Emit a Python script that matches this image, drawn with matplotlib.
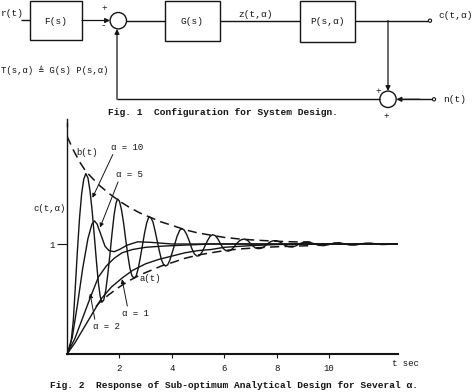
import numpy as np
import matplotlib
matplotlib.use("Agg")
import matplotlib.pyplot as plt
from matplotlib.patches import Circle, Rectangle

MONO = ['Liberation Mono', 'DejaVu Sans Mono', 'DejaVu Sans']
plt.rcParams['font.family'] = MONO
INK = '#141414'

# ---- data (t in sec, c(t, alpha)) ----
t_a10 = [0, 0.08, 0.16, 0.24, 0.32, 0.40, 0.48, 0.56, 0.64, 0.72, 0.80, 0.88, 0.96,
         1.04, 1.12, 1.20, 1.27, 1.33, 1.40, 1.48, 1.56, 1.64, 1.72, 1.80, 1.87, 1.93,
         2.00, 2.08, 2.16, 2.24, 2.32, 2.40, 2.48, 2.56, 2.64, 2.72, 2.80, 2.88, 2.96,
         3.04, 3.12, 3.20, 3.28, 3.36, 3.44, 3.52, 3.60, 3.68, 3.76, 3.84, 3.92, 4.00,
         4.10, 4.20, 4.30, 4.38, 4.46, 4.56, 4.66, 4.76, 4.86, 4.96, 5.06, 5.16, 5.26,
         5.36, 5.46, 5.56, 5.66, 5.76, 5.86, 5.96, 6.06, 6.16, 6.26, 6.36, 6.46, 6.56,
         6.66, 6.77, 6.88, 6.98, 7.08, 7.18, 7.28, 7.40, 7.52, 7.64, 7.76, 7.88, 8.00,
         8.15, 8.30, 8.45, 8.60, 8.75, 8.90, 9.05, 9.20, 9.40, 9.60, 9.80, 10.0, 10.2,
         10.4, 10.6, 10.8, 11.0, 11.2, 11.4, 11.6, 11.8, 12.0, 12.2, 12.4, 12.63]
c_a10 = [0, 0.03, 0.12, 0.30, 0.62, 0.95, 1.24, 1.46, 1.59, 1.64, 1.60, 1.48, 1.30,
         1.08, 0.85, 0.64, 0.52, 0.47, 0.49, 0.58, 0.73, 0.91, 1.10, 1.27, 1.37, 1.41,
         1.39, 1.31, 1.19, 1.04, 0.90, 0.78, 0.71, 0.69, 0.71, 0.78, 0.88, 0.99, 1.10,
         1.19, 1.245, 1.24, 1.20, 1.12, 1.03, 0.94, 0.86, 0.815, 0.80, 0.81, 0.85, 0.91,
         0.99, 1.07, 1.125, 1.14, 1.13, 1.09, 1.03, 0.96, 0.91, 0.89, 0.895, 0.93, 0.98,
         1.03, 1.07, 1.085, 1.075, 1.045, 1.00, 0.96, 0.94, 0.935, 0.945, 0.97, 1.00, 1.025,
         1.04, 1.045, 1.035, 1.01, 0.985, 0.965, 0.958, 0.96, 0.975, 1.00, 1.02, 1.03, 1.03,
         1.015, 0.99, 0.975, 0.972, 0.985, 1.005, 1.018, 1.02, 1.005, 0.988, 0.985, 0.995, 1.01,
         1.012, 1.00, 0.99, 0.99, 1.00, 1.008, 1.008, 1.00, 0.995, 0.996, 1.00, 1.00]

t_a5 = [0, 0.2, 0.4, 0.6, 0.8, 0.95, 1.05, 1.15, 1.3, 1.45, 1.6, 1.8, 2.0, 2.3, 2.7, 3.2, 4.0, 12.63]
c_a5 = [0, 0.15, 0.45, 0.78, 1.05, 1.18, 1.21, 1.18, 1.08, 0.98, 0.94, 0.93, 0.95, 0.99, 1.02, 1.015, 1.0, 1.0]

t_a2 = [0, 0.3, 0.6, 0.9, 1.2, 1.5, 1.8, 2.1, 2.5, 3.0, 3.6, 4.5, 5.5, 12.63]
c_a2 = [0, 0.14, 0.33, 0.52, 0.70, 0.80, 0.87, 0.92, 0.95, 0.97, 0.98, 0.99, 1.0, 1.0]

t_a1 = [0, 0.3, 0.6, 1.0, 1.3, 1.7, 2.1, 2.5, 3.0, 3.5, 4.0, 4.5, 5.0, 5.5, 6.0, 7.0, 8.0, 9.0, 12.63]
c_a1 = [0, 0.10, 0.22, 0.38, 0.50, 0.61, 0.69, 0.76, 0.82, 0.86, 0.89, 0.92, 0.94, 0.95, 0.97, 0.985, 0.995, 1.0, 1.0]

t_b = [0, 0.25, 0.5, 0.72, 1.0, 1.25, 1.6, 2.0, 2.4, 2.8, 3.2, 3.6, 4.0, 4.5, 5.0, 5.5,
       6.0, 6.6, 7.2, 8.0, 8.6, 9.3]
b_t = [1.98, 1.85, 1.74, 1.66, 1.59, 1.53, 1.46, 1.39, 1.33, 1.28, 1.24, 1.20, 1.17, 1.13,
       1.10, 1.08, 1.06, 1.045, 1.035, 1.025, 1.02, 1.015]

t_a = [1.1, 1.25, 1.6, 2.0, 2.4, 2.8, 3.2, 3.6, 4.0, 4.5, 5.0, 5.5, 6.0, 6.6, 7.2, 8.0, 8.6, 9.3]
a_t = [0.43, 0.47, 0.54, 0.61, 0.67, 0.72, 0.76, 0.80, 0.83, 0.87, 0.90, 0.92, 0.94, 0.955,
       0.965, 0.975, 0.98, 0.985]

x_ticks = [2, 4, 6, 8, 10]

W, H = 474, 392
fig = plt.figure(figsize=(W / 100, H / 100), dpi=100)

# ---- Fig. 2 axes ----
ax = fig.add_axes([67 / W, 1 - 354 / H, (398 - 67) / W, (354 - 123) / H])
ax.set_xlim(0, 12.63)
ax.set_ylim(0, 2.1)
for s in ['top', 'right']:
    ax.spines[s].set_visible(False)
ax.spines['left'].set_linewidth(1.0)
ax.spines['bottom'].set_linewidth(1.5)
ax.spines['left'].set_color(INK)
ax.spines['bottom'].set_color(INK)
ax.set_xticks(x_ticks)
ax.set_xticklabels([str(v) for v in x_ticks])
ax.set_yticks([1])
ax.set_yticklabels(['1'])
ax.tick_params(axis='x', length=3, width=0.8, pad=4, labelsize=6.5, colors=INK)
ax.tick_params(axis='y', length=7, width=0.8, pad=2, labelsize=6.5, colors=INK)

lw = 1.0
ax.plot(t_a10, c_a10, color=INK, lw=lw)
ax.plot(t_a5, c_a5, color=INK, lw=lw)
ax.plot(t_a2, c_a2, color=INK, lw=lw)
ax.plot(t_a1, c_a1, color=INK, lw=lw)
ax.plot(t_b, b_t, color=INK, lw=1.1, dashes=(6, 3.5))
ax.plot(t_a, a_t, color=INK, lw=1.1, dashes=(6, 3.5))

arrow = dict(arrowstyle='-|>', color=INK, lw=0.7, mutation_scale=6, shrinkA=0, shrinkB=0)
fs = 6.5
ax.text(0.76, 1.83, 'b(t)', fontsize=fs, ha='center', va='center', color=INK)
ax.text(3.17, 0.69, 'a(t)', fontsize=fs, ha='center', va='center', color=INK)
ax.annotate('α = 10', xy=(0.97, 1.42), xytext=(2.29, 1.88), fontsize=fs, ha='center',
            va='center', color=INK, arrowprops=dict(arrow, relpos=(0.1, 0.0)))
ax.annotate('α = 5', xy=(1.26, 1.15), xytext=(2.4, 1.63), fontsize=fs, ha='center',
            va='center', color=INK, arrowprops=dict(arrow, relpos=(0.1, 0.0)))
ax.annotate('α = 2', xy=(0.88, 0.55), xytext=(1.49, 0.25), fontsize=fs, ha='center',
            va='center', color=INK, arrowprops=dict(arrow, relpos=(0.1, 1.0)))
ax.annotate('α = 1', xy=(2.1, 0.68), xytext=(2.63, 0.37), fontsize=fs, ha='center',
            va='center', color=INK, arrowprops=dict(arrow, relpos=(0.2, 1.0)))

# ---- overlay in pixel coordinates for the block diagram and captions ----
ov = fig.add_axes([0, 0, 1, 1])
ov.set_xlim(0, W)
ov.set_ylim(H, 0)
ov.axis('off')

def line(xs, ys, w=1.0):
    ov.plot(xs, ys, color=INK, lw=w, solid_capstyle='butt')

def arr(x0, y0, x1, y1):
    ov.annotate('', xy=(x1, y1), xytext=(x0, y0),
                arrowprops=dict(arrowstyle='-|>', color=INK, lw=0.9, mutation_scale=7,
                                shrinkA=0, shrinkB=0))

def box(x0, x1, y1, label):
    ov.add_patch(Rectangle((x0, 0.5), x1 - x0, y1 - 0.5, fill=False, ec=INK, lw=1.0))
    ov.text((x0 + x1) / 2, 21, label, fontsize=6.8, ha='center', va='center', color=INK)

box(30, 82, 40, 'F(s)')
box(165, 220, 40.5, 'G(s)')
box(300, 355, 42, 'P(s,α)')

line([21, 30], [20, 20])
arr(82, 20.5, 110, 20.5)
ov.add_patch(Circle((118.3, 20.7), 8.2, fill=False, ec=INK, lw=1.0))
line([126.5, 165], [20.5, 20.5])
line([220, 300], [20.5, 20.5])
line([355, 428], [20.5, 20.5])
ov.add_patch(Circle((430, 20.7), 1.6, fill=False, ec=INK, lw=0.8))
arr(388, 20.5, 388, 91)
ov.add_patch(Circle((388, 99.3), 8.2, fill=False, ec=INK, lw=1.0))
line([432, 397], [99.3, 99.3])
arr(420, 99.3, 396.5, 99.3)
ov.add_patch(Circle((434, 99.3), 1.6, fill=False, ec=INK, lw=0.8))
line([379.8, 117], [99.3, 99.3])
arr(117, 99.3, 117, 29)

ft = dict(fontsize=6.8, color=INK, va='center')
ov.text(104, 8, '+', ha='center', **ft)
ov.text(103, 26, '-', ha='center', **ft)
ov.text(378, 91, '+', ha='center', **ft)
ov.text(386, 116, '+', ha='center', **ft)
ov.text(1, 13, 'r(t)', ha='left', **ft)
ov.text(256, 14, 'z(t,α)', ha='center', **ft)
ov.text(473, 15, 'c(t,α)', ha='right', **ft)
ov.text(443, 99, 'n(t)', ha='left', **ft)
ov.text(1, 70, 'T(s,α) ≜ G(s) P(s,α)', ha='left', fontsize=6.4, color=INK, va='center')
ov.text(108, 112, 'Fig. 1  Configuration for System Design.', ha='left',
        fontweight='bold', **ft)

ov.text(50, 208, 'c(t,α)', ha='center', fontsize=6.5, color=INK, va='center')
ov.text(405, 363, 't sec', ha='center', fontsize=6.5, color=INK, va='center')
ov.plot([67, 67], [119, 126], color=INK, lw=1.0)
ov.text(50, 386, 'Fig. 2  Response of Sub-optimum Analytical Design for Several α.',
        ha='left', fontweight='bold', **ft)

fig.savefig('out.png', dpi=100)
